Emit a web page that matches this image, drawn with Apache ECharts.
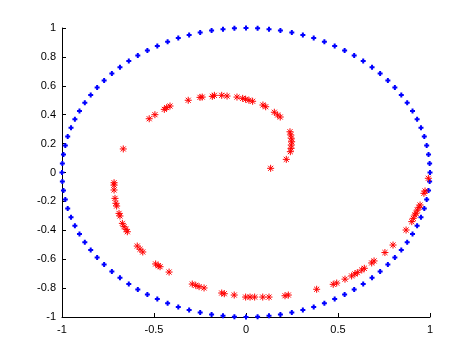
<!DOCTYPE html>
<html>
<head>
<meta charset="utf-8">
<script src="https://cdn.jsdelivr.net/npm/echarts@6/dist/echarts.min.js"></script>
<style>
  html, body { margin: 0; padding: 0; background: #fff; }
  #chart { width: 474px; height: 355px; }
</style>
</head>
<body>
<div id="chart"></div>
<script>
// unit circle, 100 points (blue dots)
const circleX = [
  1, .998, .992, .982, .969, .951, .930, .905, .876, .844, .809, .771, .729, .685, .637, .588, .536, .482, .426, .368, .309, .249, .187, .125, .063,
  0, -.063, -.125, -.187, -.249, -.309, -.368, -.426, -.482, -.536, -.588, -.637, -.685, -.729, -.771, -.809, -.844, -.876, -.905, -.930, -.951, -.969, -.982, -.992, -.998,
  -1, -.998, -.992, -.982, -.969, -.951, -.930, -.905, -.876, -.844, -.809, -.771, -.729, -.685, -.637, -.588, -.536, -.482, -.426, -.368, -.309, -.249, -.187, -.125, -.063,
  0, .063, .125, .187, .249, .309, .368, .426, .482, .536, .588, .637, .685, .729, .771, .809, .844, .876, .905, .930, .951, .969, .982, .992, .998
]
const circleY = [
  0, .063, .125, .187, .249, .309, .368, .426, .482, .536, .588, .637, .685, .729, .771, .809, .844, .876, .905, .930, .951, .969, .982, .992, .998,
  1, .998, .992, .982, .969, .951, .930, .905, .876, .844, .809, .771, .729, .685, .637, .588, .536, .482, .426, .368, .309, .249, .187, .125, .063,
  0, -.063, -.125, -.187, -.249, -.309, -.368, -.426, -.482, -.536, -.588, -.637, -.685, -.729, -.771, -.809, -.844, -.876, -.905, -.930, -.951, -.969, -.982, -.992, -.998,
  -1, -.998, -.992, -.982, -.969, -.951, -.930, -.905, -.876, -.844, -.809, -.771, -.729, -.685, -.637, -.588, -.536, -.482, -.426, -.368, -.309, -.249, -.187, -.125, -.063
]

// spiral points (red asterisks)
const spiralX = [
  0.134, 0.219, 0.241, 0.245, 0.246, 0.248, 0.246, 0.243, 0.239,
  0.186, 0.172, 0.154, 0.107, 0.092, 0.036, 0.016, -0.002, -0.018, -0.049,
  -0.103, -0.132, -0.172, -0.183, -0.238, -0.250, -0.314, -0.413, -0.431, -0.444, -0.495, -0.526,
  -0.667, -0.717, -0.717, -0.717, -0.712, -0.707, -0.703, -0.690, -0.685,
  -0.672, -0.663, -0.652, -0.645, -0.591, -0.576, -0.561, -0.491, -0.477, -0.467, -0.418,
  -0.292, -0.273, -0.255, -0.228, -0.132, -0.118, -0.064, -0.002, 0.022, 0.047, 0.091, 0.125,
  0.212, 0.230, 0.384, 0.474, 0.493, 0.538, 0.574, 0.592, 0.605, 0.629, 0.643, 0.683, 0.696,
  0.755, 0.799, 0.870, 0.901, 0.909, 0.918, 0.924, 0.931, 0.940, 0.946, 0.967, 0.973, 0.991
]
const spiralY = [
  0.029, 0.091, 0.144, 0.167, 0.190, 0.213, 0.237, 0.260, 0.282,
  0.384, 0.398, 0.417, 0.455, 0.467, 0.493, 0.500, 0.507, 0.513, 0.522,
  0.529, 0.534, 0.534, 0.527, 0.522, 0.520, 0.500, 0.460, 0.449, 0.437, 0.400, 0.372,
  0.163, -0.071, -0.087, -0.121, -0.179, -0.213, -0.232, -0.283, -0.301,
  -0.352, -0.375, -0.393, -0.410, -0.509, -0.531, -0.550, -0.633, -0.645, -0.652, -0.689,
  -0.772, -0.781, -0.790, -0.799, -0.834, -0.839, -0.848, -0.862, -0.862, -0.862, -0.862, -0.862,
  -0.853, -0.848, -0.808, -0.774, -0.765, -0.738, -0.716, -0.702, -0.693, -0.675, -0.663, -0.626, -0.612,
  -0.554, -0.502, -0.398, -0.340, -0.317, -0.294, -0.282, -0.260, -0.241, -0.225, -0.144, -0.128, -0.040
]

const xTicks = { min: -1, max: 1, step: 0.5 }
const yTicks = { min: -1, max: 1, step: 0.2 }

const asterisk = 'path://M0,-5L0,5M-5,0L5,0M-3.6,-3.6L3.6,3.6M-3.6,3.6L3.6,-3.6'
const dot = 'path://M-1,-2.5L1,-2.5L1,-1L2.5,-1L2.5,1L1,1L1,2.5L-1,2.5L-1,1L-2.5,1L-2.5,-1L-1,-1Z'

const axisFont = { color: '#000', fontSize: 11, fontFamily: 'Liberation Sans, Arial, sans-serif' }

const chart = echarts.init(document.getElementById('chart'), null, { renderer: 'canvas' })
chart.setOption({
  animation: false,
  backgroundColor: '#fff',
  grid: { left: 62, right: 44, top: 28, bottom: 38 },
  xAxis: {
    type: 'value',
    min: xTicks.min, max: xTicks.max, interval: xTicks.step,
    splitLine: { show: false },
    axisLine: { onZero: false, lineStyle: { color: '#000', width: 1 } },
    axisTick: { inside: true, length: 4, lineStyle: { color: '#000' } },
    axisLabel: { ...axisFont, margin: 7 }
  },
  yAxis: {
    type: 'value',
    min: yTicks.min, max: yTicks.max, interval: yTicks.step,
    splitLine: { show: false },
    axisLine: { show: true, onZero: false, lineStyle: { color: '#000', width: 1 } },
    axisTick: { show: true, inside: true, length: 4, lineStyle: { color: '#000' } },
    axisLabel: { ...axisFont, margin: 6 }
  },
  series: [
    {
      type: 'scatter',
      data: circleX.map((x, i) => [x, circleY[i]]),
      symbol: dot,
      symbolSize: 5,
      itemStyle: { color: '#0000ff', opacity: 1 }
    },
    {
      type: 'scatter',
      data: spiralX.map((x, i) => [x, spiralY[i]]),
      symbol: asterisk,
      symbolSize: 7,
      itemStyle: { color: '#ff0000', borderColor: '#ff0000', borderWidth: 1, opacity: 1 }
    }
  ]
})
</script>
</body>
</html>
